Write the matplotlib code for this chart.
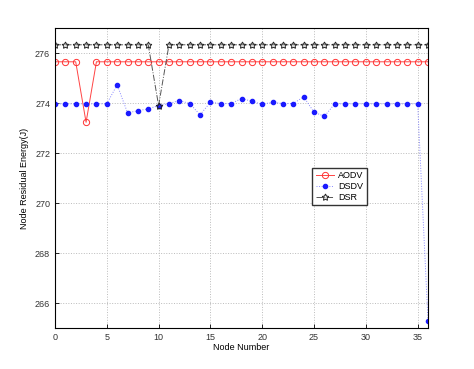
import numpy as np
import matplotlib.pyplot as plt

plt.rcParams['font.family'] = ['Liberation Sans', 'DejaVu Sans']

nodes = np.arange(0, 37)

aodv = [275.65, 275.65, 275.65, 273.23, 275.65] + [275.65] * 32

dsdv = [273.97, 273.97, 273.97, 273.97, 273.97, 273.97, 274.73, 273.61, 273.69, 273.77,
        273.90, 273.98, 274.10, 273.98, 273.53, 274.03, 273.98, 273.98, 274.18, 274.07,
        273.95, 274.03, 273.98, 273.98, 274.25, 273.63, 273.47, 273.97, 273.97, 273.97,
        273.97, 273.97, 273.97, 273.97, 273.97, 273.97, 265.27]

dsr = [276.33] * 10 + [273.90] + [276.33] * 26

xticks = [0, 5, 10, 15, 20, 25, 30, 35]
yticks = [266, 268, 270, 272, 274, 276]


def main():
    fig = plt.figure(figsize=(4.74, 3.69), dpi=100)
    ax = fig.add_axes([0.116, 0.111, 0.787, 0.813])

    ax.plot(nodes, aodv, '-', color='#ff4444', lw=0.7, marker='o', ms=4.5,
            mfc='none', mec='#ff3333', mew=0.7, label='AODV')
    ax.plot(nodes, dsdv, ':', color='#8888ff', lw=0.7, marker='.', ms=6,
            mfc='#1a1aff', mec='#1a1aff', label='DSDV')
    ax.plot(nodes, dsr, '-.', color='#555555', lw=0.7, marker=(5, 1, 0), ms=5,
            mfc='none', mec='#222222', mew=0.7, label='DSR')

    ax.set_xlim(0, 36)
    ax.set_ylim(265, 277)
    ax.set_xticks(xticks)
    ax.set_yticks(yticks)
    ax.grid(True, linestyle=':', color='#bbbbbb', lw=0.7)
    ax.tick_params(labelsize=6.5, direction='in', length=3, width=0.6,
                   labelcolor='#333333')
    for s in ax.spines.values():
        s.set_linewidth(0.8)
    ax.set_xlabel('Node Number', fontsize=6.5, labelpad=1)
    ax.set_ylabel('Node Residual Energy(J)', fontsize=6.5, labelpad=4)

    ax.legend(loc='upper left', bbox_to_anchor=(0.69, 0.535), fontsize=6.5,
              fancybox=False, edgecolor='#333333', framealpha=1,
              handlelength=2.1, handletextpad=0.4, borderpad=0.35,
              labelspacing=0.22, borderaxespad=0)

    fig.savefig('out.png', dpi=100)


if __name__ == '__main__':
    main()
